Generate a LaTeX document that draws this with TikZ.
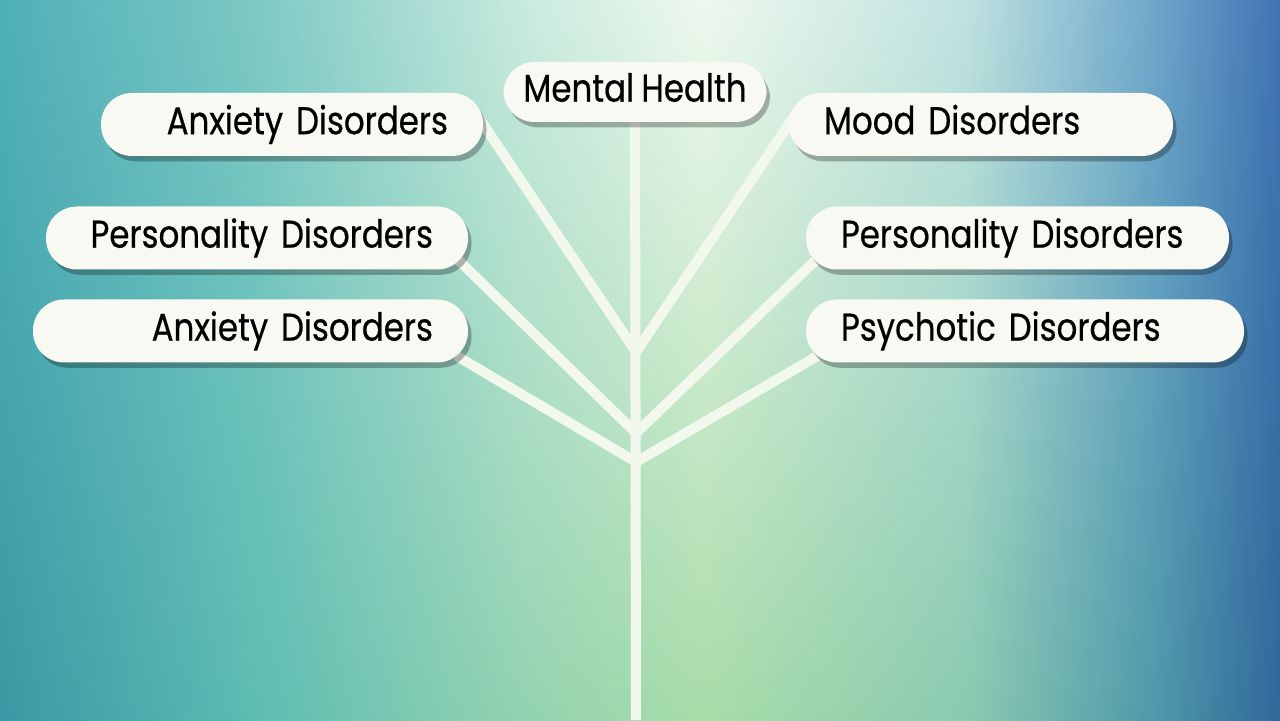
\documentclass[tikz,border=0pt]{standalone}
\usepackage{fontspec}
\newfontfamily\boxfont{Poppins}[FakeStretch=0.84, FakeBold=0.5, WordSpace=0.85]
\usetikzlibrary{shadows}

\definecolor{boxfill}{HTML}{F7F9F2}
\definecolor{stem}{HTML}{F3F8EC}
\definecolor{tA}{HTML}{4FB0B8}
\definecolor{tB}{HTML}{7CC8C4}
\definecolor{tC}{HTML}{C8EADE}
\definecolor{tD}{HTML}{EEF8EE}
\definecolor{tE}{HTML}{C0E2E0}
\definecolor{tF}{HTML}{70A8CC}
\definecolor{tG}{HTML}{3F74B4}
\definecolor{bA}{HTML}{3A98A4}
\definecolor{bB}{HTML}{5CBCB2}
\definecolor{bC}{HTML}{92D2B0}
\definecolor{bD}{HTML}{A8DCA8}
\definecolor{bE}{HTML}{8ACAB0}
\definecolor{bF}{HTML}{509AAA}
\definecolor{bG}{HTML}{30689A}
% one band of the backdrop, its colours set in the loop
\pgfdeclarehorizontalshading[cA,cB,cC,cD,cE,cF,cG]{bandbg}{100bp}{color(0bp)=(cA); color(25bp)=(cA); color(34.77bp)=(cB); color(45.31bp)=(cC); color(52.5bp)=(cD); color(62.7bp)=(cE); color(69.92bp)=(cF); color(75bp)=(cG); color(100bp)=(cG)}

\pgfdeclarelayer{bg}
\pgfdeclarelayer{lines}
\pgfsetlayers{bg,lines,main}

\tikzset{
	pill/.style={rectangle, rounded corners=0.62cm, fill=boxfill, minimum height=1.26cm,
		inner xsep=0.7cm, inner ysep=0pt, text height=16pt, text depth=5pt,
		font=\boxfont\fontsize{22}{26}\selectfont,
		drop shadow={shadow xshift=2pt, shadow yshift=-3pt, fill=black, opacity=0.28}},
	leftpill/.style={pill, align=right},
	rightpill/.style={pill, align=left},
	branch/.style={draw=stem, line width=0.2cm, shorten <=-8pt}
}

\begin{document}
\begin{tikzpicture}
	\useasboundingbox (0,0) rectangle (25.6,14.4);
	\begin{pgfonlayer}{bg}
		\foreach \i in {0,...,71}{
			\pgfmathsetmacro{\p}{100*(\i+0.5)/72}
			\colorlet{cA}{tA!\p!bA}
			\colorlet{cB}{tB!\p!bB}
			\colorlet{cC}{tC!\p!bC}
			\colorlet{cD}{tD!\p!bD}
			\colorlet{cE}{tE!\p!bE}
			\colorlet{cF}{tF!\p!bF}
			\colorlet{cG}{tG!\p!bG}
			\fill[shading=bandbg] (0,0.2*\i-0.01) rectangle (25.6,0.2*\i+0.21);
		}
	\end{pgfonlayer}

	\node[pill, minimum width=5.26cm, minimum height=1.2cm, inner xsep=0pt] (health) at (12.70,12.56) {Mental Health};

	\node[leftpill, text width=6.24cm] (anxA) at (5.84,11.91) {Anxiety Disorders};
	\node[leftpill, text width=7.04cm] (persL) at (5.14,9.64) {Personality Disorders};
	\node[leftpill, text width=7.30cm] (anxB) at (5.01,7.78) {Anxiety Disorders};

	\node[rightpill, text width=6.28cm] (mood) at (19.62,11.91) {Mood Disorders};
	\node[rightpill, text width=7.06cm] (persR) at (20.35,9.64) {Personality Disorders};
	\node[rightpill, text width=7.36cm] (psych) at (20.50,7.78) {Psychotic Disorders};

	\coordinate (jA) at (12.72,7.36);
	\coordinate (jB) at (12.72,5.74);
	\coordinate (jC) at (12.72,5.16);
	\coordinate (root) at (12.72,0);

	\begin{pgfonlayer}{lines}
		\draw[branch] (health.center) -- (root);
		\draw[branch] (anxA.east) -- (jA);
		\draw[branch] (mood.west) -- (jA);
		\draw[branch] (persL.south east) -- (jB);
		\draw[branch] (persR.south west) -- (jB);
		\draw[branch] (anxB.south east) -- (jC);
		\draw[branch] (psych.south west) -- (jC);
	\end{pgfonlayer}
\end{tikzpicture}
\end{document}
